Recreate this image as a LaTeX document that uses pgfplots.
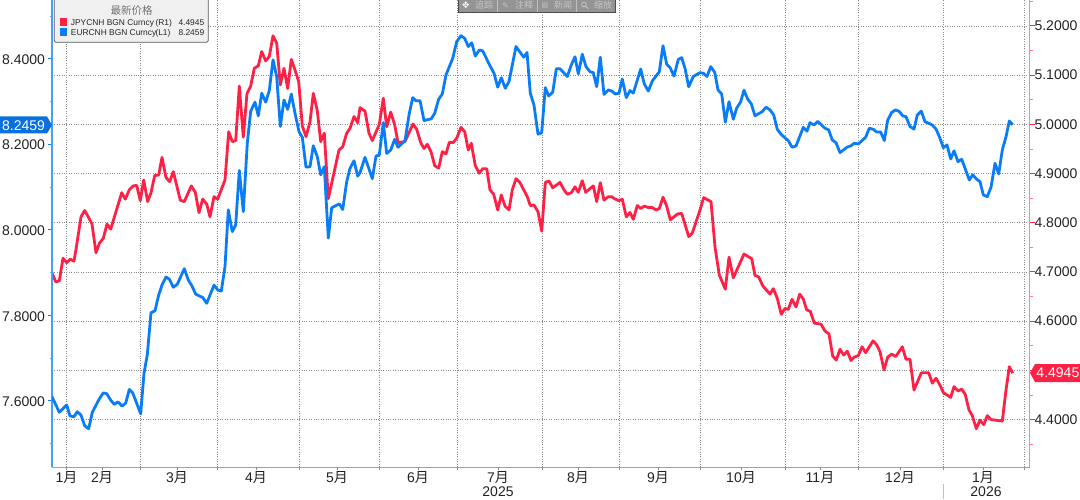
\documentclass[border=0pt]{standalone}
\usepackage{pgfplots}
\pgfplotsset{compat=1.18}
\usepackage{pgfplotstable}
\usepackage{fontspec}
\setmainfont{Liberation Sans}
\newfontfamily\cjk{Noto Sans CJK SC}
\newfontfamily\sym{DejaVu Sans}
\definecolor{bbred}{HTML}{FF2145}
\definecolor{bbblue}{HTML}{0A7CF5}
\definecolor{gridc}{HTML}{8A8A8A}
\definecolor{txt}{HTML}{222222}
\pgfplotstableread{
x v
52 7.610
59.3 7.5735
66.7 7.5906
70 7.565
74 7.563
77.3 7.575
81 7.567
84.7 7.542
88.7 7.535
92.3 7.5735
99.3 7.605
103.3 7.619
106.7 7.617
110.7 7.602
114.3 7.592
118 7.598
122 7.588
125.7 7.595
129.3 7.627
132.7 7.619
140.7 7.570
144 7.665
147.3 7.708
151 7.8065
155 7.811
158.7 7.848
162.3 7.873
166 7.890
169.3 7.885
173.3 7.866
177.3 7.873
184.3 7.9095
188.3 7.883
192 7.869
195.7 7.850
202.7 7.842
206.7 7.8285
214 7.871
217.7 7.860
221.3 7.857
225 7.914
226 7.955
228.3 8.047
232.3 7.996
235.7 8.012
239.3 8.139
243.3 8.043
247.3 8.203
250.7 8.278
255 8.299
258.3 8.267
261.7 8.320
265.7 8.299
269.3 8.326
273 8.398
276.7 8.359
280.3 8.242
284 8.304
287.7 8.282
291.3 8.318
295 8.273
299 8.230
302.3 8.217
306 8.147
310 8.148
313.3 8.197
317.3 8.1715
320.7 8.129
324.3 8.148
328.3 7.981
331.7 8.052
339.3 8.061
342.7 8.048
346.7 8.113
350 8.144
354 8.162
357.7 8.126
360 8.134
365 8.170
372.3 8.120
376 8.173
379.3 8.1755
383.3 8.251
386.7 8.179
390.7 8.187
394.7 8.212
398 8.1935
405 8.209
409 8.269
412.7 8.3095
416 8.302
420 8.3025
424 8.256
431.3 8.260
434.7 8.273
438.7 8.306
442.3 8.318
446 8.3625
452.7 8.4015
456.7 8.4405
461 8.4545
464.7 8.448
468.3 8.429
471.7 8.438
475.3 8.407
479.3 8.421
482.7 8.419
490 8.384
494 8.3665
497.7 8.334
501.3 8.356
505.3 8.3315
509 8.347
516 8.429
523.7 8.404
527 8.415
530.3 8.320
534 8.292
538 8.224
541.7 8.2275
545.3 8.333
548.7 8.3135
552.7 8.322
556.3 8.377
560 8.377
567.3 8.359
571.3 8.386
575 8.405
578.3 8.365
582.3 8.411
586 8.382
590 8.370
593.3 8.368
596.7 8.335
600.3 8.404
604 8.317
608.3 8.3275
611.7 8.325
615.3 8.318
619 8.320
622.3 8.353
626.3 8.3095
630 8.326
633.3 8.320
640.7 8.3765
644.3 8.3415
648.3 8.325
652.3 8.3485
659.3 8.370
663 8.431
666.7 8.3875
670 8.380
674 8.360
678.3 8.399
681.7 8.403
685 8.378
688.7 8.335
693.3 8.359
700 8.368
703.3 8.3665
707 8.359
710.7 8.382
714.7 8.369
718 8.3275
721.7 8.318
725.3 8.252
729 8.300
733.3 8.259
736.7 8.285
740.7 8.300
744 8.327
747.7 8.306
751.3 8.295
755 8.267
762.3 8.277
766 8.287
770 8.281
773.7 8.269
777.3 8.2355
781 8.224
784.7 8.216
788.3 8.209
792 8.1935
796 8.1965
803.3 8.240
807 8.231
810 8.251
814 8.2455
817.7 8.254
825 8.238
828.7 8.234
832.3 8.2105
836 8.204
840 8.181
847.3 8.194
850.7 8.1965
854.3 8.203
858.3 8.201
865.7 8.217
869.3 8.238
873.3 8.2355
876.7 8.229
880.7 8.229
884.3 8.209
887.7 8.257
891.7 8.275
895.7 8.281
899.3 8.277
902.7 8.267
906 8.265
910 8.242
914 8.236
917.3 8.269
921.3 8.278
925 8.253
928.7 8.2495
932.3 8.2455
936 8.236
940 8.2145
943.3 8.1925
947 8.199
950.7 8.166
954 8.185
958 8.160
961.7 8.1654
969.3 8.117
972.7 8.129
976.7 8.1186
980 8.113
983.3 8.082
987.3 8.078
991 8.100
995 8.156
998.7 8.131
1002.3 8.187
1006 8.218
1009.3 8.255
1012.7 8.2459
}\eurcnh
\pgfplotstableread{
x v
52 4.6985
55.7 4.680
59.3 4.682
63 4.728
66.7 4.719
70.3 4.726
74 4.722
76 4.746
81 4.812
84.7 4.825
88.3 4.812
92 4.7975
96 4.739
99.3 4.758
103.3 4.7685
107 4.7975
110.7 4.787
121.7 4.861
125.3 4.848
129.3 4.867
133.3 4.875
136.7 4.876
140.3 4.845
143.7 4.887
147.7 4.843
151 4.861
154.7 4.896
158.7 4.897
162 4.933
166 4.892
169.7 4.8835
173.3 4.904
180.3 4.846
184.3 4.843
191.3 4.875
195.3 4.862
199 4.8205
202.7 4.848
206.7 4.838
210 4.812
214 4.853
217.7 4.848
225 4.887
228.7 4.985
232.3 4.965
235.7 4.967
239.3 5.078
243.3 4.974
247 5.063
250.7 5.078
254.3 5.114
258.3 5.119
261.7 5.148
265.7 5.129
269.3 5.138
273 5.180
276.7 5.165
280.3 5.080
284 5.114
287.7 5.073
291.3 5.132
295 5.1105
298.7 5.087
302.3 4.997
306 4.975
310 5.005
313.3 5.063
317.3 5.028
320.7 4.965
324.3 4.982
328.3 4.849
339 4.948
342.7 4.9546
346.7 4.982
350 4.992
354 5.016
357.7 5.0034
360 5.034
365 5.027
369 4.982
372.3 4.967
379.3 5.000
383.3 5.053
386.7 4.995
390.7 5.025
394.7 4.999
398 4.963
405 4.965
413 5.001
416.7 4.990
420.7 4.963
424 4.951
427.3 4.9595
431 4.9445
434.7 4.916
438.7 4.911
442.3 4.9445
446 4.940
449.3 4.9636
453.3 4.963
457 4.973
461 4.994
464.7 4.985
468.3 4.948
471.3 4.9615
475.3 4.916
479.3 4.9006
482.7 4.910
486.7 4.910
490 4.867
493.7 4.858
497.7 4.826
501.3 4.8565
505 4.834
509 4.826
512.3 4.867
516 4.8896
520 4.8815
527.3 4.853
530.3 4.835
534 4.836
538 4.8225
541.7 4.783
545.3 4.882
549 4.885
552.7 4.871
560 4.882
564 4.867
567.3 4.858
571.3 4.861
575 4.873
578.3 4.862
582.3 4.8855
585.7 4.862
593.3 4.875
596.7 4.843
600.3 4.8815
604 4.846
608.3 4.853
611.7 4.853
615.3 4.848
619 4.845
622.3 4.848
626.3 4.812
630 4.821
633.3 4.807
637.3 4.835
640.7 4.829
644.3 4.834
648.3 4.831
652.3 4.831
656 4.826
659.3 4.829
663 4.852
666.7 4.834
670.3 4.806
677.7 4.818
681.7 4.819
688.7 4.772
692.3 4.779
700 4.826
703.7 4.851
711 4.843
715 4.751
719.3 4.694
725.3 4.665
729 4.730
733.3 4.688
744 4.7365
751.7 4.727
755 4.693
758.7 4.690
762.7 4.672
770 4.655
773.3 4.666
777.3 4.6465
781.3 4.614
785 4.626
788.3 4.624
792 4.6445
796 4.629
799.7 4.655
803.3 4.645
806.7 4.623
810.3 4.620
814.3 4.596
821 4.594
825 4.580
829 4.574
832.7 4.529
836.3 4.521
840 4.543
843.7 4.531
847.3 4.539
851 4.520
854.3 4.527
858.3 4.530
862 4.548
865.7 4.536
873 4.560
876.7 4.552
880 4.538
884 4.501
887.7 4.527
891.7 4.533
895.7 4.528
902.3 4.548
906 4.5225
910 4.5225
914 4.460
921.3 4.495
928.7 4.495
932.3 4.474
936 4.484
940 4.470
943.3 4.455
950.7 4.445
954 4.467
958 4.458
961.7 4.462
965.3 4.451
969 4.4195
972.3 4.408
976.3 4.3815
980 4.399
983.7 4.3896
987.3 4.408
991 4.400
1002.3 4.397
1006 4.460
1009.3 4.5075
1012.7 4.4945
}\jpycnh
\pgfplotsset{common/.style={
  at={(52pt,32pt)}, anchor=south west, scale only axis,
  width=977.5pt, height=467pt, xmin=52, xmax=1029.5,
  tick label style={font=\fontsize{14}{16}\selectfont, text=txt},
}}
\begin{document}
\begin{tikzpicture}
\useasboundingbox (0,0) rectangle (1080pt,499pt);
% right axis (red), with the grid and the month axis
\begin{axis}[common,
  axis x line*=bottom, axis y line*=right,
  ymin=4.3036, ymax=5.2528,
  ytick={4.4,4.5,4.6,4.7,4.8,4.9,5.0,5.1,5.2},
  minor ytick={4.35,4.45,4.55,4.65,4.75,4.85,4.95,5.05,5.15,5.25},
  yticklabels={4.4000,,4.6000,4.7000,4.8000,4.9000,5.0000,5.1000,5.2000},
  ymajorgrids, xmajorgrids,
  grid style={gridc, line width=0.7pt, dash pattern=on 1pt off 1.4pt},
  xtick={66.5,140.7,217.7,299,379.7,457.7,542,619.3,700.7,785,858.3,943.3,1024.3},
  xticklabels={},
  extra x ticks={66.5,102,177,256,337,418,498,578,658,741,820,900,983},
  extra x tick labels={1{\cjk 月},2{\cjk 月},3{\cjk 月},4{\cjk 月},5{\cjk 月},6{\cjk 月},7{\cjk 月},8{\cjk 月},9{\cjk 月},10{\cjk 月},11{\cjk 月},12{\cjk 月},1{\cjk 月}},
  extra x tick style={grid=none, major tick length=0pt, xticklabel style={yshift=-0.5pt}},
  tick align=outside,
  major tick length=5pt, minor tick length=3pt,
  x tick style={gridc, line width=0.7pt, /pgfplots/major tick length=3pt},
  y tick style={bbred, line width=1pt},
  minor y tick style={bbred!60, line width=0.6pt},
  yticklabel style={xshift=-3.5pt},
  x axis line style={draw=gridc!80, line width=1pt},
  y axis line style={draw=bbred!55, line width=1.2pt},
  axis line style={-},
]
\addplot[bbred, line width=2.8pt, line join=round] table[x=x,y=v] {\jpycnh};
\end{axis}
% left axis (blue)
\begin{axis}[common,
  axis x line=none, axis y line*=left,
  ymin=7.4456, ymax=8.5379,
  ytick={7.6,7.8,8.0,8.2,8.4}, minor ytick={7.5,7.7,7.9,8.1,8.3,8.5},
  yticklabels={7.6000,7.8000,8.0000,8.2000,8.4000},
  tick align=outside,
  major tick length=4pt, minor tick length=2.5pt,
  y tick style={bbblue, line width=1pt},
  minor y tick style={bbblue!60, line width=0.6pt},
  yticklabel style={xshift=0.5pt, yshift=-0.7pt},
  y axis line style={draw=bbblue!75, line width=1.2pt},
  axis line style={-},
]
\addplot[bbblue, line width=2.8pt, line join=round] table[x=x,y=v] {\eurcnh};
\end{axis}
% value tags
\fill[bbblue!90!black] (0,499pt-116.5pt) -- (47pt,499pt-116.5pt) -- (52pt,499pt-125pt) -- (47pt,499pt-133.5pt) -- (0,499pt-133.5pt) -- cycle;
\node[font=\fontsize{14}{16}\selectfont, text=white, anchor=west, inner sep=0pt] at (2pt,499pt-125.5pt) {8.2459};
\fill[bbred] (1030pt,499pt-373pt) -- (1035pt,499pt-364pt) -- (1080pt,499pt-364pt) -- (1080pt,499pt-382pt) -- (1035pt,499pt-382pt) -- cycle;
\node[font=\fontsize{14}{16}\selectfont, text=white, anchor=east, inner sep=0pt] at (1079.5pt,499pt-373pt) {4.4945};
% years
\node[font=\fontsize{14}{16}\selectfont, text=txt] at (498pt,499pt-492pt) {2025};
\node[font=\fontsize{14}{16}\selectfont, text=txt] at (986pt,499pt-492pt) {2026};
\draw[gray!50, line width=0.8pt] (943.3pt,0) -- (943.3pt,499pt-484pt);
% legend
\draw[fill=black!6, draw=black!65, line width=0.8pt, rounded corners=2pt] (54.3pt,503pt) rectangle (208.3pt,499pt-42.3pt);
\node[font=\cjk\fontsize{10.5}{12}\selectfont, text=black!55] at (131.7pt,499pt-11pt) {最新价格};
\fill[bbred] (60pt,499pt-25.7pt) rectangle (67.3pt,499pt-18pt);
\fill[bbblue] (60pt,499pt-35.7pt) rectangle (67.3pt,499pt-28.3pt);
\begin{scope}[every node/.style={font=\fontsize{8.4}{10}\selectfont, text=black!85, anchor=base west, inner sep=0pt}]
\node at (70.7pt,499pt-25.8pt) {JPYCNH BGN Curncy};
\node at (155.3pt,499pt-25.8pt) {(R1)};
\node at (178.3pt,499pt-25.8pt) {4.4945};
\node at (70.7pt,499pt-36pt) {EURCNH BGN Curncy};
\node at (155.3pt,499pt-36pt) {(L1)};
\node at (178.3pt,499pt-36pt) {8.2459};
\end{scope}
% toolbar
\fill[black!42] (458pt,499pt) rectangle (615pt,499pt-12.5pt);
\draw[black!70, line width=0.9pt] (458pt,499pt) -- (458pt,499pt-12.5pt) -- (615pt,499pt-12.5pt) -- (615pt,499pt);
\foreach \s in {497.5,537,576} \draw[black!25, line width=0.5pt] (\s pt,499pt) -- (\s pt,499pt-12pt);
\begin{scope}[every node/.style={text=black!22, inner sep=0pt}]
\node[font=\sym\fontsize{9}{10}\selectfont, text=white] at (466pt,499pt-5.5pt) {✥};
\node[font=\sym\fontsize{8}{10}\selectfont] at (505.5pt,499pt-6pt) {✎};
\node[font=\sym\fontsize{7}{10}\selectfont] at (545pt,499pt-5.5pt) {▤};
\node[font=\cjk\fontsize{9}{10}\selectfont] at (484pt,499pt-5.5pt) {追踪};
\node[font=\cjk\fontsize{9}{10}\selectfont] at (524pt,499pt-5.5pt) {注释};
\node[font=\cjk\fontsize{9}{10}\selectfont] at (563pt,499pt-5.5pt) {新闻};
\node[font=\cjk\fontsize{9}{10}\selectfont] at (603pt,499pt-5.5pt) {缩放};
\end{scope}
\draw[black!22, line width=0.8pt] (584pt,499pt-4.5pt) circle (2.3pt);
\draw[black!22, line width=1pt] (585.7pt,499pt-6.2pt) -- (588.2pt,499pt-8.7pt);
\end{tikzpicture}
\end{document}
